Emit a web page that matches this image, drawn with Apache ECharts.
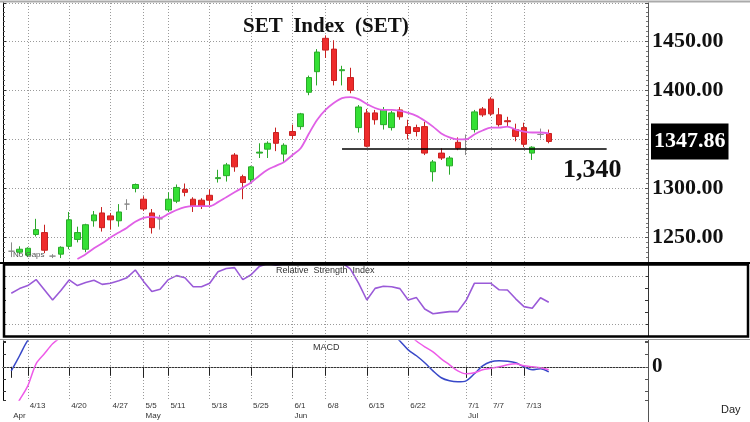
<!DOCTYPE html>
<html>
<head>
<meta charset="utf-8">
<title>SET Index</title>
<script src="https://cdn.jsdelivr.net/npm/echarts@6/dist/echarts.min.js"></script>
<style>
html, body {margin: 0; padding: 0; background: #fff;}
#chart {width: 750px; height: 422px;}
</style>
</head>
<body>
<div id="chart"></div>
<script>
// trading days shown on the chart
var tradeDates = ['4/9','4/10','4/13','4/14','4/15','4/16','4/17','4/20','4/21','4/22','4/23','4/24','4/27','4/28','4/29','4/30',
    '5/5','5/7','5/8','5/11','5/12','5/13','5/14','5/15','5/18','5/19','5/20','5/21','5/22','5/25','5/26','5/27','5/28','5/29',
    '6/1','6/2','6/4','6/5','6/8','6/9','6/10','6/11','6/12','6/15','6/16','6/17','6/18','6/19','6/22','6/23','6/24','6/25','6/26','6/29','6/30',
    '7/1','7/2','7/3','7/7','7/8','7/9','7/10','7/13','7/14','7/15','7/16'];
// empty room on the right of the last candle
var spareDates = ['7/17','7/20','7/21','7/22','7/23','7/24','7/29','7/30','7/31','8/3','8/4','8/5'];

var openPrices  = [1236,1235,1232,1253,1255,1231,1233,1241,1248,1238,1267,1275,1272,1267,1284,1300,
    1289,1275,1269,1278,1287,1299,1289,1288,1293,1310,1313,1334,1312,1309,1336,1340,1357,1335,
    1358,1363,1398,1419,1453,1442,1420,1413,1362,1377,1377,1365,1362,1380,1363,1362,1363,1317,1336,1323,1347,
    1350,1360,1381,1391,1375,1369,1360,1362,1336,1355,1356];
var closePrices = [1236,1238,1239,1258,1237,1231,1240,1268,1255,1263,1273,1260,1268,1276,1284,1304,
    1279,1260,1269,1289,1301,1296,1282,1282,1288,1311,1324,1322,1306,1322,1337,1346,1346,1344,
    1354,1376,1413,1439,1441,1410,1421,1400,1383,1343,1370,1380,1377,1373,1356,1358,1336,1327,1331,1331,1341,
    1350,1378,1375,1376,1365,1368,1353,1345,1342,1355,1347.86];
var lowPrices   = [1230,1233,1230,1251,1234,1229,1229,1238,1245,1235,1261,1256,1258,1261,1278,1296,
    1277,1254,1258,1276,1285,1292,1276,1279,1283,1306,1307,1317,1289,1305,1331,1331,1338,1327,
    1350,1360,1395,1405,1433,1405,1405,1397,1357,1342,1365,1360,1359,1370,1350,1353,1334,1307,1329,1314,1339,
    1334,1357,1373,1374,1363,1363,1348,1342,1329,1351,1346];
var highPrices  = [1245,1241,1240,1269,1263,1233,1241,1276,1261,1264,1277,1281,1275,1284,1289,1305,
    1292,1279,1273,1296,1304,1305,1291,1290,1299,1319,1326,1336,1314,1323,1346,1348,1362,1346,
    1365,1377,1415,1442,1456,1451,1425,1423,1385,1381,1380,1383,1379,1383,1370,1365,1368,1329,1341,1333,1352,
    1355,1380,1383,1393,1382,1373,1366,1367,1343,1361,1360];

// moving average (magenta line), starts below the visible range
var maValues = ['-','-','-','-','-','-','-','-',1228,1233,1239,1244,1250,1255,1260,1266,
    1270,1271,1270,1274,1278,1281,1282,1282,1282,1286,1291,1296,1301,1306,1313,1319,1323,1327,
    1334,1341,1356,1370,1380,1387,1392,1393,1391,1386,1382,1380,1380,1379,1377,1374,1369,1363,1356,1352,1350,
    1350,1355,1359,1362,1362,1363,1360,1358,1357,1357,1356];

var rsiValues = [55.6,59.5,62,67,58.5,50,58,66.7,62,64.5,66.5,63,64,66,68.6,75,
    65.5,57,59,67,70.3,68.6,61.1,61.1,64,73.5,76.3,77,67,71,78,80.5,79,80,
    82,85,88,90,87,81,81,76,64,50,59.7,61.5,61,59.5,50,52,42.5,38.5,39.5,40.3,40.3,
    49.5,63.9,63.9,63.9,58.5,58.3,51,44.5,43.1,51.9,48.1];

var macdValues = [-3.3,9,21.5,28,31,32,33,36,37,38,39,39,38,38,38,40,
    39,37,35,35,36,36,35,34,33,34,35,36,35,35,36,37,38,38,
    38,40,44,49,52,52,51,49,46,42,38,34,28,21,13.8,9,3.3,-3.3,-8.9,-11.4,-12.2,
    -11.4,-5.7,0.8,4.1,4.9,4.5,3.3,0,-2.4,-1.6,-4.1];
var signalValues = [-38,-27,-15.5,2.4,10.6,18.7,24,28,31,33,35,36,37,37,37.5,38,
    38,38,37,36.5,36,36,35.5,35,34.5,34.5,34.5,35,35,35,35.5,36,36.5,37,
    37.5,38,39.5,41.5,44,46,47,47.5,47,45.5,43.5,41,38,33,27,21,16.3,12.2,6.5,1.6,-3.3,
    -5.7,-4.9,-2.4,-1.2,0,1.6,2.4,0.8,0,-0.8,-2.4];

var dateTicks = ['4/13','4/20','4/27','5/5','5/11','5/18','5/25','6/1','6/8','6/15','6/22','7/1','7/7','7/13'];
var monthStarts = {'4/9': 'Apr', '5/5': 'May', '6/1': 'Jun', '7/1': 'Jul'};
var supportLevel = 1340;

var categories = [''].concat(tradeDates, spareDates);
var lastClose = closePrices[closePrices.length - 1];

function withBlank(arr) {
    return ['-'].concat(arr);
}

var candleData = [['-','-','-','-']];
for (var i = 0; i < tradeDates.length; i++) {
    candleData.push([openPrices[i], closePrices[i], lowPrices[i], highPrices[i]]);
}

function isDateTick(index, value) {
    return dateTicks.indexOf(value) > -1;
}
function isMonthStart(index, value) {
    return monthStarts[value] !== undefined;
}

var serif = 'Liberation Serif';
var sans = 'Liberation Sans';
var gridDots = {color: '#9a9a9a', type: [1, 2], width: 1};

function plainX(gridIndex) {
    return {
        type: 'category', gridIndex: gridIndex, data: categories, boundaryGap: false,
        axisLine: {show: false}, axisTick: {show: false}, axisLabel: {show: false},
        splitLine: {show: true, interval: isDateTick, lineStyle: gridDots}
    };
}

var chart = echarts.init(document.getElementById('chart'));

var option = {
    animation: false,
    backgroundColor: '#fff',
    title: {
        text: 'SET  Index  (SET)', left: 243, top: 16, padding: 0,
        textStyle: {fontFamily: serif, fontWeight: 'bold', fontSize: 21, color: '#111'}
    },
    grid: [
        {left: 3, right: 102, top: 3, height: 259},
        {left: 3, right: 102, top: 264, height: 72},
        {left: 3, right: 102, top: 341, height: 59}
    ],
    xAxis: [
        plainX(0),
        plainX(1),
        {
            type: 'category', gridIndex: 2, data: categories, boundaryGap: false,
            axisLine: {show: true, lineStyle: {color: '#333'}},
            axisTick: {show: true, interval: isDateTick, length: 9, lineStyle: {color: '#222'}},
            axisLabel: {interval: isDateTick, align: 'left', padding: [0, 0, 0, 2], margin: 2,
                fontFamily: sans, fontSize: 8, color: '#333'},
            splitLine: {show: true, interval: isDateTick, lineStyle: gridDots}
        },
        {
            type: 'category', gridIndex: 2, data: categories, boundaryGap: false, position: 'bottom', offset: 10,
            axisLine: {show: true, lineStyle: {color: '#333'}},
            axisTick: {show: true, interval: isMonthStart, length: 11, lineStyle: {color: '#222'}},
            axisLabel: {interval: isMonthStart, align: 'left', padding: [0, 0, 0, 2], margin: 2,
                fontFamily: sans, fontSize: 8, color: '#333',
                formatter: function (value) { return monthStarts[value] || ''; }},
            splitLine: {show: false}
        }
    ],
    yAxis: [
        {
            type: 'value', gridIndex: 0, position: 'left', min: 1225, max: 1489, scale: true,
            axisLine: {show: true, lineStyle: {color: '#000'}},
            axisTick: {show: true, inside: true, length: 3, lineStyle: {color: '#333'}},
            minorTick: {show: true, splitNumber: 10, length: 2, lineStyle: {color: '#555'}},
            axisLabel: {show: false},
            splitLine: {show: true, lineStyle: gridDots}
        },
        {
            type: 'value', gridIndex: 0, position: 'right', min: 1225, max: 1489, scale: true,
            axisLine: {show: true, lineStyle: {color: '#555'}},
            axisTick: {show: true, inside: true, length: 3, lineStyle: {color: '#555'}},
            minorTick: {show: true, splitNumber: 10, length: 2, lineStyle: {color: '#777'}},
            axisLabel: {margin: 4, fontFamily: serif, fontWeight: 'bold', fontSize: 22, color: '#111',
                formatter: function (v) {
                    if (v % 50 !== 0 || v === 1350) return '';
                    return v.toFixed(2);
                }},
            splitLine: {show: false}
        },
        {
            type: 'value', gridIndex: 1, position: 'left', min: 20, max: 80,
            axisLine: {show: false}, axisLabel: {show: false},
            axisTick: {show: true, inside: true, length: 3, lineStyle: {color: '#333'}},
            minorTick: {show: true, splitNumber: 2, length: 2},
            splitLine: {show: false}
        },
        {
            type: 'value', gridIndex: 1, position: 'right', min: 20, max: 80,
            axisLine: {show: true, lineStyle: {color: '#333'}}, axisLabel: {show: false},
            axisTick: {show: true, inside: true, length: 3, lineStyle: {color: '#333'}},
            splitLine: {show: false}
        },
        {
            type: 'value', gridIndex: 2, position: 'left', min: -27, max: 21,
            axisLine: {show: true, lineStyle: {color: '#000'}}, axisLabel: {show: false},
            axisTick: {show: true, inside: true, length: 3, lineStyle: {color: '#333'}},
            splitLine: {show: false}
        },
        {
            type: 'value', gridIndex: 2, position: 'right', min: -27, max: 21,
            axisLine: {show: true, lineStyle: {color: '#555'}},
            axisTick: {show: true, inside: true, length: 3, lineStyle: {color: '#555'}},
            axisLabel: {margin: 4, fontFamily: serif, fontWeight: 'bold', fontSize: 21, color: '#111',
                formatter: function (v) { return v === 0 ? '0' : ''; }},
            splitLine: {show: false}
        }
    ],
    series: [
        {
            name: 'SET', type: 'candlestick', xAxisIndex: 0, yAxisIndex: 0,
            barWidth: 6,
            data: candleData,
            itemStyle: {
                color: '#34e034', color0: '#ee2b2b',
                borderColor: '#2aa82a', borderColor0: '#c82020', borderColorDoji: '#8a8a8a', borderWidth: 1
            },
            markLine: {
                silent: true, symbol: ['none', 'none'], animation: false,
                data: [
                    [
                        {coord: ['6/10', supportLevel], lineStyle: {color: '#000', width: 1.5, type: 'solid'}, label: {show: false}},
                        {coord: ['7/29', supportLevel]}
                    ],
                    {
                        yAxis: lastClose,
                        lineStyle: {color: 'rgba(0,0,0,0)', width: 0.5},
                        label: {
                            show: true, position: 'end', distance: 3,
                            formatter: lastClose.toFixed(2),
                            backgroundColor: '#000', color: '#fff', padding: [7, 3, 7, 3],
                            fontFamily: serif, fontWeight: 'bold', fontSize: 22
                        }
                    }
                ]
            }
        },
        {
            name: 'MA', type: 'line', xAxisIndex: 0, yAxisIndex: 0,
            data: withBlank(maValues), symbol: 'none', smooth: 0.3,
            lineStyle: {color: '#e060e6', width: 1.8}
        },
        {
            name: 'RSI', type: 'line', xAxisIndex: 1, yAxisIndex: 2,
            data: withBlank(rsiValues), symbol: 'none',
            lineStyle: {color: '#9a5ad8', width: 1.6},
            markLine: {
                silent: true, symbol: ['none', 'none'], label: {show: false},
                lineStyle: gridDots,
                data: [{yAxis: 30}, {yAxis: 70}]
            }
        },
        {
            name: 'MACD', type: 'line', xAxisIndex: 2, yAxisIndex: 4,
            data: withBlank(macdValues), symbol: 'none', smooth: 0.3,
            lineStyle: {color: '#3848c8', width: 1.5},
            markLine: {
                silent: true, symbol: ['none', 'none'], label: {show: false},
                lineStyle: gridDots,
                data: [{yAxis: 0}]
            }
        },
        {
            name: 'Signal', type: 'line', xAxisIndex: 2, yAxisIndex: 4,
            data: withBlank(signalValues), symbol: 'none', smooth: 0.3,
            lineStyle: {color: '#ee5ae8', width: 1.5}
        }
    ],
    graphic: [
        {type: 'line', silent: true, shape: {x1: 0, y1: 1.5, x2: 750, y2: 1.5}, style: {stroke: '#aaa', lineWidth: 2}},
        {type: 'line', silent: true, z: 50, shape: {x1: 0, y1: 263, x2: 750, y2: 263}, style: {stroke: '#000', lineWidth: 2}},
        {type: 'rect', silent: true, z: 50, shape: {x: 4, y: 264.5, width: 744, height: 72}, style: {fill: 'none', stroke: '#000', lineWidth: 2.5}},
        {type: 'line', silent: true, z: 50, shape: {x1: 0, y1: 339.5, x2: 750, y2: 339.5}, style: {stroke: '#999', lineWidth: 1}},
        {type: 'line', silent: true, z: 50, shape: {x1: 648.5, y1: 340, x2: 648.5, y2: 422}, style: {stroke: '#555', lineWidth: 1}},
        {type: 'text', silent: true, z: 50, left: 563, top: 157,
            style: {text: '1,340', fontFamily: serif, fontWeight: 'bold', fontSize: 26, fill: '#111'}},
        {type: 'text', silent: true, z: 50, left: 13, top: 251,
            style: {text: 'No Gaps', fontFamily: sans, fontSize: 8, fill: '#555'}},
        {type: 'text', silent: true, z: 50, left: 276, top: 266,
            style: {text: 'Relative  Strength  Index', fontFamily: sans, fontSize: 9, fill: '#333'}},
        {type: 'text', silent: true, z: 50, left: 313, top: 343,
            style: {text: 'MACD', fontFamily: sans, fontSize: 9, fill: '#333'}},
        {type: 'text', silent: true, z: 50, left: 721, top: 404,
            style: {text: 'Day', fontFamily: sans, fontSize: 11, fill: '#222'}}
    ]
};

chart.setOption(option);
</script>
</body>
</html>
